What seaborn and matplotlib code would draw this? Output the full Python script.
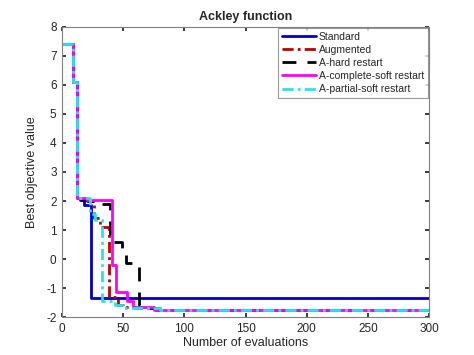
import matplotlib
matplotlib.use("Agg")
import matplotlib.pyplot as plt
import seaborn as sns
import pandas as pd

sns.set_theme(style="white")
plt.rcParams['font.family'] = ['Liberation Sans', 'DejaVu Sans']
plt.rcParams['axes.unicode_minus'] = False

# Step data (evaluation index where a new best value starts, best value)
std_x = [0, 9, 12, 15, 18, 24, 300]
std_y = [7.4, 6.1, 2.1, 2.05, 1.85, -1.35, -1.35]

aug_x = [0, 9, 12, 15, 20, 26, 31, 38, 46, 50, 60, 80, 300]
aug_y = [7.4, 6.1, 2.1, 2.05, 2.0, 1.4, 1.1, -1.3, -1.6, -1.65, -1.7, -1.75, -1.75]

hard_x = [0, 9, 12, 15, 21, 27, 39, 49, 52, 63, 70, 78, 300]
hard_y = [7.4, 6.1, 2.1, 2.05, 2.0, 1.9, 0.6, 0.3, -0.15, -1.6, -1.7, -1.75, -1.75]

comp_x = [0, 9, 12, 15, 20, 41, 44, 53, 58, 75, 300]
comp_y = [7.4, 6.1, 2.1, 2.1, 2.05, -0.2, -1.15, -1.45, -1.65, -1.75, -1.75]

part_x = [0, 9, 12, 15, 23, 27, 33, 43, 50, 80, 300]
part_y = [7.4, 6.1, 2.1, 2.1, 1.55, 1.35, -1.45, -1.6, -1.7, -1.75, -1.75]

labels = ["Standard", "Augmented", "A-hard restart",
          "A-complete-soft restart", "A-partial-soft restart"]

series = [(std_x, std_y, "#0000c8", "-"),
          (aug_x, aug_y, "#c00000", (0, (4, 1.5, 1, 1.5))),
          (hard_x, hard_y, "black", (0, (5, 4))),
          (comp_x, comp_y, "#ff00ff", "-"),
          (part_x, part_y, "#20e8e8", (0, (4, 1.5, 1, 1.5)))]

fig = plt.figure(figsize=(4.74, 3.55), dpi=100)
ax = fig.add_axes([0.131, 0.107, 0.774, 0.817])

for (x, y, c, ls), lab in zip(series, labels):
    df = pd.DataFrame({"x": x, "y": y})
    sns.lineplot(data=df, x="x", y="y", ax=ax, color=c, linestyle=ls,
                 linewidth=2, drawstyle="steps-post", label=lab,
                 estimator=None, sort=False)

ax.set_xlim(0, 300)
ax.set_ylim(-2, 8)
ax.set_xticks(range(0, 301, 50))
ax.set_yticks(range(-2, 9, 1))
ax.tick_params(direction="in", length=3, labelsize=8.5, colors="#262626",
               top=True, right=True, bottom=True, left=True, pad=4)
for s in ax.spines.values():
    s.set_color("#808080")
    s.set_linewidth(0.8)
ax.set_xlabel("Number of evaluations", fontsize=9, color="#262626", labelpad=2)
ax.set_ylabel("Best objective value", fontsize=9, color="#262626", labelpad=6)
ax.set_title("Ackley function", fontsize=9, fontweight="bold", pad=5)

leg = ax.legend(loc="upper right", fontsize=7.5, frameon=True, fancybox=False,
                edgecolor="#808080", borderpad=0.35, labelspacing=0.3,
                handlelength=3.3, handletextpad=0.3, borderaxespad=0.1)
leg.get_frame().set_linewidth(0.8)

fig.savefig("out.png", dpi=100, facecolor="white")
